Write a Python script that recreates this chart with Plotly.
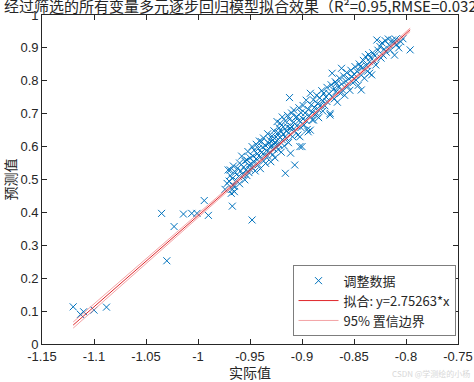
import numpy as np
import plotly.graph_objects as go

# ---------------- data ----------------
actual = [
    -1.120, -1.113, -1.110, -1.100, -1.088,
    -1.035, -1.030, -1.023, -1.014, -1.006, -1.001, -0.994, -0.990, -0.967, -0.948, -0.969, -0.965, -0.966, -0.967,
    -0.974, -0.972, -0.971, -0.970, -0.969, -0.968, -0.967, -0.966, -0.965, -0.964, -0.963, -0.962, -0.961, -0.960,
    -0.960, -0.959, -0.958, -0.957, -0.956, -0.955, -0.955, -0.954, -0.953, -0.953, -0.952, -0.951, -0.951, -0.950,
    -0.950, -0.949,
    -0.948, -0.948, -0.947, -0.946, -0.946, -0.945, -0.944, -0.944, -0.943, -0.942, -0.942, -0.941, -0.940, -0.940,
    -0.939, -0.939, -0.938, -0.937, -0.937, -0.936, -0.935, -0.935, -0.934, -0.933, -0.933, -0.932, -0.931, -0.931,
    -0.930, -0.930, -0.929, -0.929, -0.928, -0.928, -0.927, -0.927, -0.926, -0.926, -0.925, -0.925,
    -0.924, -0.924, -0.923, -0.923, -0.922, -0.922, -0.921, -0.921, -0.920, -0.920, -0.919, -0.919, -0.918, -0.918,
    -0.917, -0.916, -0.916, -0.915, -0.915, -0.914, -0.914, -0.913, -0.913, -0.912, -0.912, -0.911, -0.911, -0.910,
    -0.910, -0.909, -0.908, -0.908, -0.907, -0.907, -0.906, -0.905, -0.905, -0.904, -0.903, -0.903, -0.902, -0.902,
    -0.901, -0.901,
    -0.900, -0.899, -0.899, -0.898, -0.897, -0.896, -0.896, -0.895, -0.894, -0.894, -0.893, -0.892, -0.892, -0.891,
    -0.890, -0.890, -0.889, -0.889, -0.888, -0.887, -0.886, -0.886, -0.885, -0.884, -0.884, -0.883, -0.882, -0.881,
    -0.880, -0.880, -0.879, -0.878, -0.877, -0.876, -0.876,
    -0.874, -0.873, -0.873, -0.872, -0.871, -0.871, -0.870, -0.869, -0.868, -0.867, -0.867, -0.866, -0.865, -0.864,
    -0.863, -0.862, -0.862, -0.861, -0.860, -0.859, -0.858, -0.857, -0.856, -0.855, -0.854, -0.853, -0.852, -0.851,
    -0.850,
    -0.849, -0.848, -0.847, -0.846, -0.845, -0.844, -0.843, -0.843, -0.842, -0.841, -0.840, -0.839, -0.838, -0.837,
    -0.836, -0.835, -0.835, -0.834, -0.833, -0.832, -0.831, -0.830, -0.829, -0.828, -0.827,
    -0.825, -0.824, -0.823, -0.822, -0.821, -0.820, -0.819, -0.817, -0.816, -0.815, -0.813, -0.812, -0.811, -0.810,
    -0.809, -0.807, -0.805, -0.803, -0.796,
]
predicted = [
    0.113, 0.090, 0.098, 0.103, 0.112,
    0.397, 0.253, 0.357, 0.395, 0.397, 0.397, 0.436, 0.391, 0.419, 0.377, 0.529, 0.463, 0.480, 0.470,
    0.470, 0.488, 0.529, 0.495, 0.512, 0.458, 0.503, 0.541, 0.480, 0.522, 0.497, 0.534, 0.509, 0.550,
    0.487, 0.526, 0.571, 0.515, 0.538, 0.499, 0.556, 0.528, 0.559, 0.512, 0.585, 0.543, 0.521, 0.566,
    0.531, 0.548,
    0.600, 0.537, 0.571, 0.552, 0.589, 0.526, 0.563, 0.607, 0.578, 0.545, 0.594, 0.617, 0.569, 0.533,
    0.615, 0.582, 0.598, 0.556, 0.626, 0.574, 0.603, 0.549, 0.588, 0.639, 0.571, 0.610, 0.620, 0.583,
    0.597, 0.554, 0.632, 0.604, 0.620, 0.576, 0.648, 0.593, 0.611, 0.566, 0.629, 0.601,
    0.676, 0.618, 0.591, 0.642, 0.657, 0.605, 0.671, 0.628, 0.583, 0.646, 0.690, 0.621, 0.660, 0.637,
    0.602, 0.519, 0.678, 0.648, 0.625, 0.695, 0.660, 0.612, 0.641, 0.749, 0.683, 0.580, 0.655, 0.661,
    0.702, 0.630, 0.711, 0.674, 0.544, 0.648, 0.689, 0.691, 0.663, 0.635, 0.718, 0.679, 0.600, 0.630,
    0.703, 0.658,
    0.600, 0.684, 0.725, 0.666, 0.702, 0.741, 0.679, 0.652, 0.645, 0.713, 0.694, 0.650, 0.762, 0.727,
    0.705, 0.681, 0.681, 0.742, 0.719, 0.697, 0.701, 0.756, 0.731, 0.712, 0.688, 0.748, 0.726, 0.770,
    0.708, 0.739, 0.762, 0.724, 0.751, 0.737, 0.780,
    0.761, 0.701, 0.696, 0.788, 0.823, 0.752, 0.773, 0.745, 0.797, 0.792, 0.768, 0.735, 0.781, 0.808,
    0.762, 0.838, 0.790, 0.772, 0.815, 0.756, 0.799, 0.825, 0.783, 0.806, 0.771, 0.832, 0.812, 0.794,
    0.820,
    0.843, 0.802, 0.828, 0.786, 0.851, 0.843, 0.772, 0.817, 0.839, 0.862, 0.808, 0.873, 0.846, 0.829,
    0.880, 0.823, 0.858, 0.870, 0.818, 0.885, 0.861, 0.876, 0.848, 0.924, 0.893,
    0.904, 0.869, 0.915, 0.878, 0.896, 0.922, 0.887, 0.927, 0.908, 0.893, 0.924, 0.915, 0.878, 0.926,
    0.910, 0.900, 0.919, 0.928, 0.894,
]

FIT_SLOPE = 2.77
FIT_INTERCEPT = 3.16
CI_SE = 0.019
T95 = 1.97

x_ticks = [-1.15, -1.1, -1.05, -1.0, -0.95, -0.9, -0.85, -0.8, -0.75]
x_tick_labels = ["-1.15", "-1.1", "-1.05", "-1", "-0.95", "-0.9", "-0.85", "-0.8", "-0.75"]
y_ticks = [0, 0.1, 0.2, 0.3, 0.4, 0.5, 0.6, 0.7, 0.8, 0.9, 1.0]
y_tick_labels = ["0", "0.1", "0.2", "0.3", "0.4", "0.5", "0.6", "0.7", "0.8", "0.9", "1"]

title_text = "经过筛选的所有变量多元逐步回归模型拟合效果（R²=0.95,RMSE=0.032）"
x_title = "实际值"
y_title = "预测值"
legend_names = ["调整数据", "拟合: y=2.75263*x", "95% 置信边界"]

# ---------------- derived lines ----------------
xa = np.array(actual)
n = len(xa)
xm = xa.mean()
sxx = ((xa - xm) ** 2).sum()
fx = np.linspace(xa.min(), xa.max(), 60)
fy = FIT_SLOPE * fx + FIT_INTERCEPT
half = T95 * CI_SE * np.sqrt(1.0 / n + (fx - xm) ** 2 / sxx)
ci_x = list(fx) + [None] + list(fx)
ci_y = list(fy + half) + [None] + list(fy - half)

TXT = "#262626"
font_lat = "Liberation Sans, Arial, Noto Sans CJK SC, sans-serif"
font_cjk = "Noto Sans CJK SC, Liberation Sans, sans-serif"

fig = go.Figure()
fig.add_trace(go.Scatter(
    x=actual, y=predicted, mode="markers", name=legend_names[0],
    marker=dict(symbol="x-thin", size=7, line=dict(color="#0072BD", width=1), color="#0072BD"),
))
fig.add_trace(go.Scatter(
    x=fx, y=fy, mode="lines", name=legend_names[1],
    line=dict(color="#E0262B", width=1),
))
fig.add_trace(go.Scatter(
    x=ci_x, y=ci_y, mode="lines", name=legend_names[2],
    line=dict(color="#F08C8E", width=0.8),
))

axis_common = dict(
    showgrid=False, zeroline=False, showline=True, linecolor=TXT, linewidth=0.8,
    mirror="ticks", ticks="inside", ticklen=5, tickwidth=0.8, tickcolor=TXT, automargin=False,
    tickfont=dict(family=font_lat, size=13, color=TXT),
)

fig.update_layout(
    template="none",
    width=474, height=382,
    margin=dict(l=42, r=16, t=15, b=38, autoexpand=False),
    paper_bgcolor="white", plot_bgcolor="white",
    title=dict(text=title_text, x=0.523, xanchor="center", y=0.982, yanchor="middle", yref="container",
               automargin=False, font=dict(family=font_cjk, size=15, color=TXT)),
    xaxis=dict(range=[-1.15, -0.75], tickvals=x_ticks, ticktext=x_tick_labels, **axis_common),
    yaxis=dict(range=[0, 1], tickvals=y_ticks, ticktext=y_tick_labels, **axis_common),
    legend=dict(x=0.995, y=0.024, xanchor="right", yanchor="bottom",
                bgcolor="white", bordercolor=TXT, borderwidth=0.6, itemwidth=40,
                font=dict(family=font_cjk, size=13, color=TXT), tracegroupgap=0),
    showlegend=True,
    annotations=[
        dict(text=x_title, x=0.5, y=0, xref="paper", yref="paper", xanchor="center", yanchor="middle",
             yshift=-28, showarrow=False, font=dict(family=font_cjk, size=14, color=TXT)),
        dict(text=y_title, x=0, y=0.5, xref="paper", yref="paper", xanchor="center", yanchor="middle",
             xshift=-33, textangle=-90, showarrow=False, font=dict(family=font_cjk, size=14, color=TXT)),
        dict(text="CSDN @学测绘的小杨", x=1.0, y=0.0, xref="paper", yref="paper",
             xanchor="right", yanchor="middle", yshift=-29, xshift=14, showarrow=False,
             font=dict(family=font_cjk, size=8, color="#d8d8d8")),
    ],
)

fig.write_html("out.html", config={"displayModeBar": False},
               post_script="document.body.style.margin='0px'; document.body.style.overflow='hidden';")
